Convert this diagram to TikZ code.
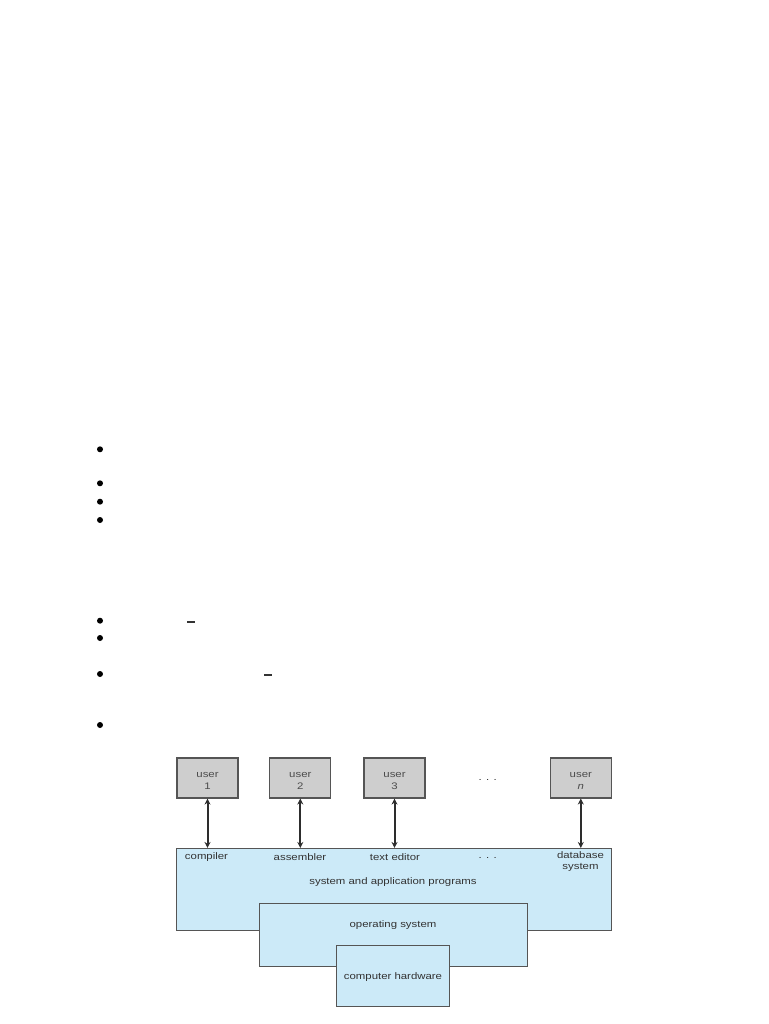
\documentclass[tikz,border=0pt]{standalone}
\usepackage{fontspec}
\setmainfont{Liberation Sans}
\usetikzlibrary{arrows.meta}
\definecolor{boxblue}{RGB}{204,234,248}
\definecolor{usergray}{RGB}{206,206,206}
\definecolor{edgegray}{RGB}{85,85,85}
\definecolor{arrowgray}{RGB}{45,45,45}
\begin{document}
\begin{tikzpicture}[x=1pt,y=-1pt,
  bul/.style={circle,fill=black,inner sep=0pt,minimum size=6pt},
  dsh/.style={fill=black!80,inner sep=0pt,minimum width=8pt,minimum height=1.6pt},
  userbox/.style={draw=edgegray,line width=1.1pt,fill=usergray,inner sep=0pt,
     minimum width=61pt,minimum height=40pt},
  layer/.style={draw=edgegray,line width=1pt,fill=boxblue,inner sep=0pt},
  lbl/.style={inner sep=0pt,font=\fontsize{9.5}{10.5}\selectfont,text=black!80,align=center,
     xscale=1.2,transform shape},
  ulbl/.style={lbl,font=\fontsize{9.5}{12}\selectfont,text=black!70},
  conn/.style={draw=arrowgray,line width=2pt,{Stealth[length=6pt,width=6pt]}-{Stealth[length=6pt,width=6pt]}}
]
\useasboundingbox (0,0) rectangle (768,1024);
% bullets
\node[bul] (b1) at (100,449.3) {};
\node[bul] (b2) at (100,483.3) {};
\node[bul] (b3) at (100,501.7) {};
\node[bul] (b4) at (100,520) {};
\node[bul] (b5) at (100,620.7) {};
\node[bul] (b6) at (100,638) {};
\node[bul] (b7) at (100,674) {};
\node[bul] (b8) at (100,725) {};
\node[dsh] (d1) at (191.3,621.7) {};
\node[dsh] (d2) at (268,675) {};
% layers
\node[layer,minimum width=435.7pt,minimum height=82.5pt] (apps) at (393.9,889.7) {};
\node[layer,minimum width=268.4pt,minimum height=63.4pt] (os) at (393.5,935) {};
\node[layer,minimum width=113.3pt,minimum height=60.7pt] (hw) at (393.3,976.3) {};
% users
\node[userbox] (u1) at (207.5,778) {};
\node[userbox] (u2) at (300.3,778) {};
\node[userbox] (u3) at (394.5,778) {};
\node[userbox] (un) at (580.8,778) {};
\node[ulbl] (t1) at (207.5,780.5) {user\\1};
\node[ulbl] (t2) at (300.3,780.5) {user\\2};
\node[ulbl] (t3) at (394.5,780.5) {user\\3};
\node[ulbl] (tn) at (580.8,780.5) {user\\\textit{n}};
\node[lbl] (dots1) at (487.7,780) {. . .};
% labels
\node[lbl] (comp) at (206.5,857) {compiler};
\node[lbl] (asm) at (300,857) {assembler};
\node[lbl] (ted) at (395,857) {text editor};
\node[lbl] (dots2) at (487.7,858) {. . .};
\node[lbl] (db) at (580.5,861.5) {database\\system};
\node[lbl] (sap) at (393,881.7) {system and application programs};
\node[lbl] (ost) at (393,925) {operating system};
\node[lbl] (cht) at (393,977) {computer hardware};
% connectors
\draw[conn] (u1.south) -- (u1.south |- apps.north);
\draw[conn] (u2.south) -- (u2.south |- apps.north);
\draw[conn] (u3.south) -- (u3.south |- apps.north);
\draw[conn] (un.south) -- (un.south |- apps.north);
\end{tikzpicture}
\end{document}
